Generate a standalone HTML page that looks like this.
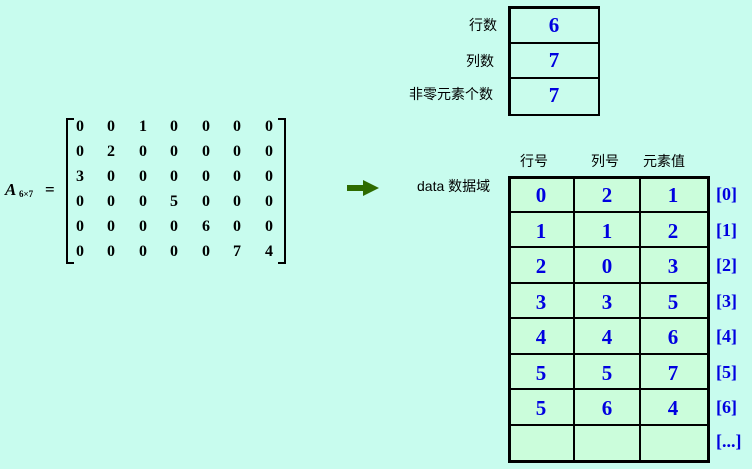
<!DOCTYPE html>
<html><head><meta charset="utf-8"><style>
body{margin:0;width:752px;height:469px;background:#c8fcee;position:relative;overflow:hidden;font-family:"Liberation Sans","Noto Sans CJK SC",sans-serif}
.a{position:absolute}
.m{position:absolute;font:bold 16px "Liberation Serif",serif;color:#000;width:20px;text-align:center}
.v{position:absolute;font:bold 21px "Liberation Serif",serif;color:#0000e0;text-align:center}
.l{position:absolute;font-size:14px;color:#000;white-space:nowrap}
.ix{position:absolute;font:bold 18px "Liberation Serif",serif;color:#0000e0}
</style></head><body>
<!-- top table -->
<div class="a" style="left:508px;top:6px;width:87px;height:105px;border-top:3px solid #000;border-left:3px solid #000;border-right:2px solid #000;border-bottom:2px solid #000;background:#c9fcec"></div>
<div class="a" style="left:508px;top:42px;width:92px;height:2px;background:#000"></div>
<div class="a" style="left:508px;top:77px;width:92px;height:2px;background:#000"></div>
<div class="v" style="left:509px;top:13px;width:90px">6</div>
<div class="v" style="left:509px;top:48px;width:90px">7</div>
<div class="v" style="left:509px;top:83px;width:90px">7</div>
<div class="l" style="left:469px;top:15px">行数</div>
<div class="l" style="left:466px;top:51px">列数</div>
<div class="l" style="left:409px;top:84px">非零元素个数</div>
<!-- headers -->
<div class="l" style="left:520px;top:151px">行号</div>
<div class="l" style="left:591px;top:151px">列号</div>
<div class="l" style="left:643px;top:151px">元素值</div>
<div class="l" style="left:417px;top:176px">data 数据域</div>
<!-- bottom table -->
<div class="a" style="left:508px;top:176px;width:196px;height:281px;border:3px solid #000;background:#cbfddb"></div>
<div class="a" style="left:573px;top:176px;width:2px;height:284px;background:#000"></div>
<div class="a" style="left:639px;top:176px;width:2px;height:284px;background:#000"></div>
<div class="a" style="left:508px;top:211px;width:199px;height:2px;background:#000"></div>
<div class="a" style="left:508px;top:246px;width:199px;height:2px;background:#000"></div>
<div class="a" style="left:508px;top:282px;width:199px;height:2px;background:#000"></div>
<div class="a" style="left:508px;top:317px;width:199px;height:2px;background:#000"></div>
<div class="a" style="left:508px;top:353px;width:199px;height:2px;background:#000"></div>
<div class="a" style="left:508px;top:388px;width:199px;height:2px;background:#000"></div>
<div class="a" style="left:508px;top:424px;width:199px;height:2px;background:#000"></div>
<div id="cells"></div>
<!-- matrix -->
<div class="a" style="left:66px;top:118px;width:6px;height:142px;border:2px solid #000;border-right:none"></div>
<div class="a" style="left:278px;top:118px;width:6px;height:142px;border:2px solid #000;border-left:none"></div>
<div class="a" style="left:5px;top:180px;font:bold italic 17px 'Liberation Serif',serif">A</div>
<div class="a" style="left:19px;top:189px;font:bold 9px 'Liberation Serif',serif">6×7</div>
<div class="a" style="left:45px;top:180px;font:bold 17px 'Liberation Serif',serif">=</div>
<!-- arrow -->
<svg class="a" style="left:340px;top:175px" width="45" height="26"><path d="M7 10H23V5L39 13L23 21V16H7Z" fill="#2e6b00"/></svg>
<script>
var M=[[0,0,1,0,0,0,0],[0,2,0,0,0,0,0],[3,0,0,0,0,0,0],[0,0,0,5,0,0,0],[0,0,0,0,6,0,0],[0,0,0,0,0,7,4]];
var xs=[80,111,143,174,206,237,269],h='';
for(var r=0;r<6;r++)for(var c=0;c<7;c++)h+='<div class="m" style="left:'+(xs[c]-10)+'px;top:'+(118+r*25)+'px">'+M[r][c]+'</div>';
var D=[[0,2,1],[1,1,2],[2,0,3],[3,3,5],[4,4,6],[5,5,7],[5,6,4]],cx=[541,607,673];
for(var r=0;r<7;r++){var y=183+r*35.5;for(var c=0;c<3;c++)h+='<div class="v" style="left:'+(cx[c]-20)+'px;top:'+y+'px;width:40px">'+D[r][c]+'</div>';
h+='<div class="ix" style="left:716px;top:'+(y+1)+'px">['+r+']</div>';}
h+='<div class="ix" style="left:716px;top:431px">[...]</div>';
document.getElementById('cells').innerHTML=h;
</script>
</body></html>
